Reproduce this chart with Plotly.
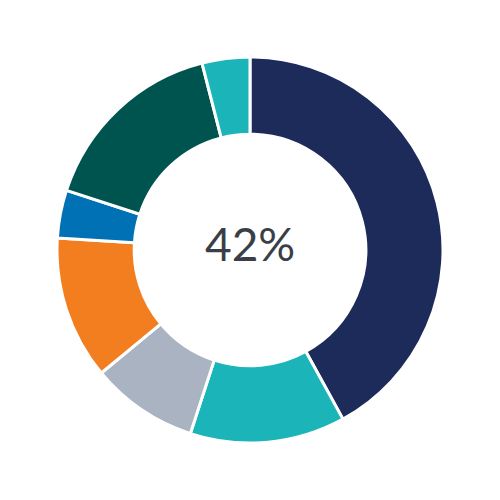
import plotly.graph_objects as go

labels = ["A", "B", "C", "D", "E", "F", "G"]
values = [42, 13, 9, 12, 4, 16, 4]
colors = ["#1c2b5a", "#1bb5b9", "#a9b3c1", "#f37e20", "#0071b4", "#005450", "#1bb5b9"]
center_text = "42%"

fig = go.Figure()
fig.add_trace(go.Pie(
    labels=labels,
    values=values,
    hole=0.6,
    sort=False,
    direction="clockwise",
    rotation=0,
    marker=dict(colors=colors, line=dict(color="white", width=3)),
    textinfo="none",
    hoverinfo="label+percent",
    showlegend=False,
))

# page body adds an 8px offset, so the margins are shifted to keep the ring centred
fig.update_layout(
    width=500,
    height=500,
    margin=dict(l=49, r=65, t=49, b=65),
    paper_bgcolor="white",
    annotations=[dict(
        text=center_text,
        x=0.5, y=0.5,
        xref="paper", yref="paper",
        yshift=7,
        showarrow=False,
        font=dict(family="Lato", size=46, color="#3a3f47"),
    )],
)

fig.write_html("out.html")
